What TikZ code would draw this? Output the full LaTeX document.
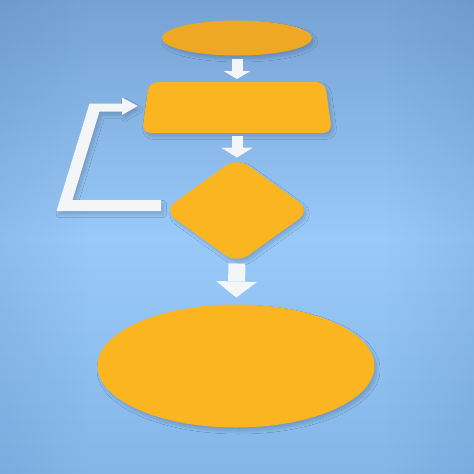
\documentclass[tikz,border=0pt]{standalone}
\usetikzlibrary{shapes.geometric,arrows.meta,calc,shadows.blur,fadings}
\definecolor{bgtop}{RGB}{118,162,212}
\definecolor{bgmid}{RGB}{152,201,248}
\definecolor{bgbot}{RGB}{132,182,232}
\definecolor{bgedge}{RGB}{60,100,160}
\definecolor{orangeA}{RGB}{239,168,36}
\definecolor{orangeB}{RGB}{251,181,32}
\definecolor{arrowwhite}{RGB}{243,245,247}
\tikzset{
  shd/.style={blur shadow={shadow xshift=2.5pt, shadow yshift=-3.5pt, shadow opacity=16, shadow blur steps=8, shadow blur radius=3pt}},
  shp/.style={inner sep=0pt, outer sep=0pt, fill=orangeB, shd},
  blk/.style={draw=arrowwhite, line width=#1},
}
\begin{document}
\begin{tikzpicture}[x=1pt,y=-1pt]
\useasboundingbox (0,0) rectangle (474,474);
\shade[top color=bgtop, bottom color=bgbot, middle color=bgmid] (0,0) rectangle (474,474);
\fill[bgedge, opacity=0.12, path fading=east] (0,0) rectangle (90,474);
\fill[bgedge, opacity=0.12, path fading=west] (384,0) rectangle (474,474);
% nodes
\node[shp, ellipse, fill=orangeA, minimum width=150pt, minimum height=35pt] (e1) at (237,38) {};
\node[inner sep=0pt, outer sep=0pt, minimum width=184pt, minimum height=51pt] (r) at (237,107.5) {};
\fill[orangeB, rounded corners=9pt, shd] ($(r.north west)+(4,0)$) -- ($(r.north east)+(-4,0)$) -- ($(r.south east)+(3,0)$) -- ($(r.south west)+(-3,0)$) -- cycle;
\node[shp, diamond, minimum width=147pt, minimum height=106pt, rounded corners=14pt] (d) at (237,210.5) {};
\node[shp, ellipse, minimum width=277pt, minimum height=123pt] (e2) at (236,366) {};
% straight connectors
\draw[blk=11pt, -{Triangle[width=27pt,length=8pt,line width=0pt]}, shorten <=3pt, shorten >=3pt] (e1.south) -- (r.north);
\draw[blk=11pt, -{Triangle[width=32pt,length=10pt,line width=0pt]}, shorten <=3pt, shorten >=0pt] (r.south) -- (d.north);
\draw[blk=17pt, -{Triangle[width=41pt,length=16pt,line width=0pt]}, shorten <=0pt, shorten >=7pt] (d.south) -- (e2.north);
% loop connector
\coordinate (ls) at ($(d.west)+(-2.5,0)$);
\coordinate (le) at ($(r.west)+(-7.5,-1.5)$);
\fill[arrowwhite, shd]
  ($(ls)+(0,-10.5)$) -- ($(ls)+(0,0.5)$) -- ($(ls)+(-104.5,0.5)$) -- ($(le)+(-48,-2.5)$)
  -- ($(le)+(-15.5,-2.5)$) -- ($(le)+(-15.5,-8.5)$) -- (le) -- ($(le)+(-15.5,9)$) -- ($(le)+(-15.5,5.5)$)
  -- ($(le)+(-38,5.5)$) -- ($(ls)+(-88.5,-10.5)$) -- cycle;
\end{tikzpicture}
\end{document}
